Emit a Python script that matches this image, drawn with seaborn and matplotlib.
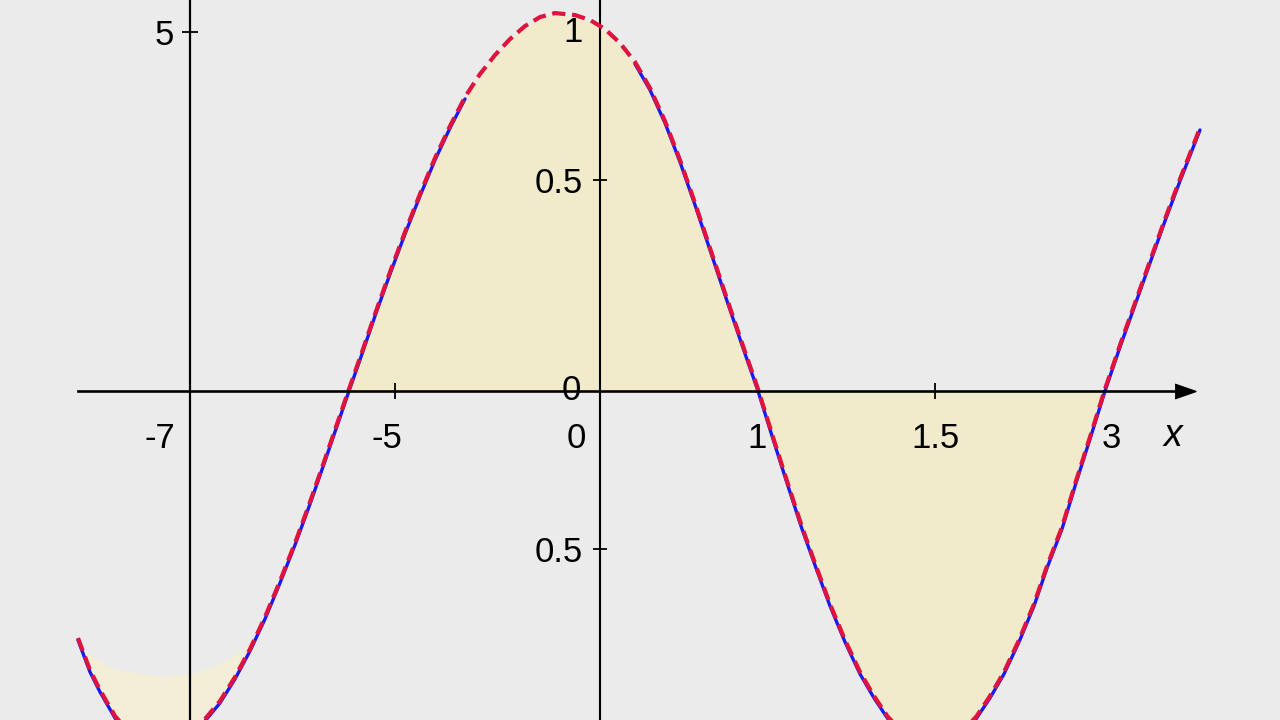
import numpy as np
import pandas as pd
import matplotlib
matplotlib.use("Agg")
import matplotlib.pyplot as plt
import matplotlib.transforms as mtransforms
import seaborn as sns

# ---- data (x, y in units of 100 px; origin at axis crossing) ----
curve_x = [-5.22, -5.10, -5.00, -4.85, -4.70, -4.55, -4.40, -4.25, -4.10, -3.95,
           -3.80, -3.65, -3.50, -3.35, -3.20, -3.05, -2.90, -2.75, -2.63, -2.51,
           -2.38, -2.25, -2.10, -1.95, -1.80, -1.65, -1.50, -1.35, -1.20, -1.05,
           -0.90, -0.75, -0.60, -0.45, -0.25, -0.10, 0.05, 0.20, 0.35, 0.50,
           0.65, 0.80, 0.95, 1.10, 1.26, 1.42, 1.58, 1.73, 1.87, 2.02,
           2.16, 2.30, 2.45, 2.60, 2.74, 2.88, 3.03, 3.17, 3.32, 3.47,
           3.61, 3.76, 3.90, 4.04, 4.19, 4.34, 4.47, 4.62, 4.76, 4.90,
           5.05, 5.20, 5.35, 5.50, 5.65, 5.80, 6.00]
curve_y = [-2.49, -2.81, -3.01, -3.27, -3.44, -3.52, -3.55, -3.52, -3.44, -3.30,
           -3.12, -2.88, -2.60, -2.28, -1.92, -1.54, -1.13, -0.70, -0.35, 0.00,
           0.37, 0.75, 1.17, 1.57, 1.95, 2.31, 2.63, 2.92, 3.15, 3.34,
           3.50, 3.63, 3.72, 3.76, 3.74, 3.69, 3.60, 3.46, 3.27, 3.01,
           2.68, 2.29, 1.86, 1.41, 0.93, 0.46, 0.00, -0.48, -0.92, -1.38,
           -1.77, -2.15, -2.51, -2.83, -3.07, -3.28, -3.43, -3.52, -3.55, -3.52,
           -3.43, -3.28, -3.07, -2.83, -2.51, -2.15, -1.77, -1.38, -0.92, -0.48,
           0.00, 0.44, 0.86, 1.28, 1.70, 2.10, 2.61]

# upper rim of the small shaded lens in the lower-left dip
lens_x = [-5.16, -4.87, -4.40, -4.10, -3.83, -3.60, -3.44]
lens_y = [-2.60, -2.78, -2.86, -2.84, -2.75, -2.61, -2.47]

shade_from, shade_to = -2.51, 5.05      # shaded stretch between curve and axis
blue_gap = (-1.35, 0.35)                # stretch where only the dashed curve shows

x_tick_pos = [-2.05, 3.35]
x_tick_labels = ["", "1.5"]
x_label_pos = [-4.40, -2.13, -0.24, 1.57, 5.11]
x_label_text = ["-7", "-5", "0", "1", "3"]
y_tick_pos = [2.11, -1.58]
y_tick_labels = ["0.5", "0.5"]
left_tick_pos = [3.59]
left_tick_labels = ["5"]
x_axis_end = 5.95

XLIM = (-6.0, 6.8)
YLIM = (-3.29, 3.91)

BG = "#ebebeb"
FILL = "#f1ebcc"
LENS = "#f4eed6"
BLUE = "#1a1af0"
RED = "#e0123e"
FS = 25

sns.set_style("white", {"axes.facecolor": BG, "figure.facecolor": BG})
plt.rcParams["font.family"] = ["Liberation Sans", "DejaVu Sans"]
plt.rcParams["text.color"] = "black"

df = pd.DataFrame({"x": curve_x, "y": curve_y})
lens = pd.DataFrame({"x": lens_x, "y": lens_y})


def visible_runs(frame, bottom):
    """Split a curve into runs that stay inside the view (plus one point each side)."""
    frame = frame.reset_index(drop=True)
    idx = np.where(frame["y"].to_numpy() >= bottom)[0]
    groups = np.split(idx, np.where(np.diff(idx) > 1)[0] + 1)
    out = []
    for g in groups:
        if len(g) == 0:
            continue
        lo = max(g[0] - 1, 0)
        hi = min(g[-1] + 1, len(frame) - 1)
        out.append(frame.iloc[lo:hi + 1])
    return out


fig = plt.figure(figsize=(12.8, 7.2), dpi=100)
ax = fig.add_axes([0, 0, 1, 1])
ax.set_facecolor(BG)
ax.set_axisbelow(False)
ax.set_xlim(*XLIM)
ax.set_ylim(*YLIM)

# shaded areas
x = df["x"].to_numpy()
y = df["y"].to_numpy()
ax.fill_between(x, 0, y, where=(x >= shade_from) & (x <= shade_to),
                color=FILL, linewidth=0, zorder=1)
sel = df[(df["x"] > lens["x"].min()) & (df["x"] < lens["x"].max())]
ax.fill(np.concatenate([lens["x"].to_numpy(), sel["x"].to_numpy()[::-1]]),
        np.concatenate([lens["y"].to_numpy(), sel["y"].to_numpy()[::-1]]),
        color=LENS, linewidth=0, zorder=1)

# curves: solid blue, and the red dashed copy sitting a hair above it
left_part = df[df["x"] <= blue_gap[0]]
right_part = df[df["x"] >= blue_gap[1]]
for part in (left_part, right_part):
    for run in visible_runs(part, YLIM[0]):
        sns.lineplot(data=run, x="x", y="y", ax=ax, color=BLUE, linewidth=2.4,
                     estimator=None, sort=False, zorder=4)
red_shift = mtransforms.offset_copy(ax.transData, fig=fig, x=0, y=1.4, units="points")
for run in visible_runs(df, YLIM[0]):
    sns.lineplot(data=run, x="x", y="y", ax=ax, color=RED, linewidth=3.0,
                 estimator=None, sort=False, zorder=5,
                 linestyle=(0, (3.2, 1.6)), transform=red_shift)

# axes lines
for s in ("top", "right"):
    ax.spines[s].set_visible(False)
for s in ("left", "bottom"):
    ax.spines[s].set_position(("data", 0))
    ax.spines[s].set_color("black")
ax.spines["left"].set_linewidth(1.5)
ax.spines["bottom"].set_linewidth(1.9)
ax.spines["bottom"].set_bounds(-5.22, x_axis_end - 0.1)
ax.spines["left"].set_zorder(3)
ax.spines["bottom"].set_zorder(6)
ax.plot([x_axis_end - 0.105], [0], marker=[(-1, -0.7), (1, 0), (-1, 0.7)],
        markersize=15, color="black", linestyle="none", zorder=7, clip_on=False)

ax.set_xticks(x_tick_pos, labels=x_tick_labels)
ax.set_xticks(x_label_pos, labels=x_label_text, minor=True)
ax.tick_params(axis="x", which="major", bottom=True, direction="inout", length=11,
               width=1.3, pad=17, labelsize=FS, colors="black")
ax.tick_params(axis="x", which="minor", bottom=True, length=0, pad=22,
               labelsize=FS, colors="black")
ax.set_yticks(y_tick_pos, labels=y_tick_labels)
ax.tick_params(axis="y", which="major", left=True, direction="inout", length=10,
               width=1.3, pad=7, labelsize=FS, colors="black")
ax.set_xlabel("")
ax.set_ylabel("")

# second vertical line with its tick
sec = ax.secondary_yaxis(190 / 1280)
sec.set_zorder(3)
sec.set_yticks(left_tick_pos, labels=left_tick_labels)
sec.spines["left"].set_linewidth(1.6)
sec.spines["left"].set_color("black")
sec.tick_params(left=True, direction="inout", length=11, width=1.3, pad=6,
                labelsize=FS, colors="black")

# loose labels
ax.text(-0.27, 3.58, "1", fontsize=FS, ha="center", va="center", zorder=8)
ax.text(-0.29, 0.0, "0", fontsize=FS, ha="center", va="center", zorder=8)
ax.text(5.73, -0.45, "x", fontsize=27, style="italic", ha="center", va="center")

fig.savefig("out.png", dpi=100, facecolor=BG)
